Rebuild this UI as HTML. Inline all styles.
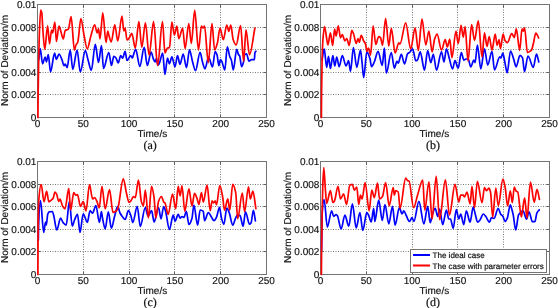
<!DOCTYPE html>
<html><head><meta charset="utf-8"><style>
html,body{margin:0;padding:0;background:#fff;}
svg{display:block;text-rendering:geometricPrecision;filter:blur(0.3px);}
.t{font-family:"Liberation Sans",Arial,sans-serif;font-size:10px;fill:#111;stroke:#111;stroke-width:0.15px;}
.s{font-family:"Liberation Serif","Times New Roman",serif;font-size:12px;fill:#111;stroke:#111;stroke-width:0.2px;}
.l{font-family:"Liberation Sans",Arial,sans-serif;font-size:8px;fill:#111;stroke:#111;stroke-width:0.2px;}
</style></head><body>
<svg width="558" height="308" viewBox="0 0 558 308">
<rect x="0" y="0" width="558" height="308" fill="#fff"/>

<g stroke="#7a7a7a" stroke-width="1" stroke-dasharray="1 1.5"><line x1="83.5" y1="4.5" x2="83.5" y2="117.5"/><line x1="37.5" y1="94.5" x2="266.5" y2="94.5"/><line x1="129.5" y1="4.5" x2="129.5" y2="117.5"/><line x1="37.5" y1="72.5" x2="266.5" y2="72.5"/><line x1="174.5" y1="4.5" x2="174.5" y2="117.5"/><line x1="37.5" y1="49.5" x2="266.5" y2="49.5"/><line x1="220.5" y1="4.5" x2="220.5" y2="117.5"/><line x1="37.5" y1="27.5" x2="266.5" y2="27.5"/></g>
<path d="M37.5 117.5v-3M37.5 4.5v3M37.5 117.5h3M266.5 117.5h-3M83.5 117.5v-3M83.5 4.5v3M37.5 94.5h3M266.5 94.5h-3M129.5 117.5v-3M129.5 4.5v3M37.5 72.5h3M266.5 72.5h-3M174.5 117.5v-3M174.5 4.5v3M37.5 49.5h3M266.5 49.5h-3M220.5 117.5v-3M220.5 4.5v3M37.5 27.5h3M266.5 27.5h-3M266.5 117.5v-3M266.5 4.5v3M37.5 4.5h3M266.5 4.5h-3" stroke="#606060" stroke-width="1" fill="none"/>
<rect x="37.5" y="4.5" width="229.0" height="113.0" fill="none" stroke="#747474" stroke-width="1"/>
<path d="M38.70 60.00C39.20 56.20 39.70 48.60 40.20 48.60C41.00 48.60 41.80 63.80 42.60 63.80C43.47 63.80 44.33 57.00 45.20 57.00C45.60 57.00 46.00 61.90 46.40 61.90C47.03 61.90 47.67 54.50 48.30 54.50C49.03 54.50 49.77 72.00 50.50 72.00C51.87 72.00 53.23 53.20 54.60 53.20C55.20 53.20 55.80 59.40 56.40 59.40C57.27 59.40 58.13 54.00 59.00 54.00C60.03 54.00 61.07 57.62 62.10 60.10C62.73 61.62 63.37 65.70 64.00 65.70C64.40 65.70 64.80 64.00 65.20 64.00C65.83 64.00 66.47 67.60 67.10 67.60C68.13 67.60 69.17 50.00 70.20 50.00C71.07 50.00 71.93 69.40 72.80 69.40C74.23 69.40 75.67 50.00 77.10 50.00C78.17 50.00 79.23 72.00 80.30 72.00C81.97 72.00 83.63 50.70 85.30 50.70C86.13 50.70 86.97 55.90 87.80 58.90C88.07 59.86 88.33 61.06 88.60 62.00C89.50 65.19 90.40 70.50 91.30 70.50C92.63 70.50 93.97 44.40 95.30 44.40C96.37 44.40 97.43 62.50 98.50 62.50C99.50 62.50 100.50 45.70 101.50 45.70C102.17 45.70 102.83 68.50 103.50 68.50C105.27 68.50 107.03 52.60 108.80 52.60C109.70 52.60 110.60 65.50 111.50 65.50C112.27 65.50 113.03 56.30 113.80 56.30C114.53 56.30 115.27 57.15 116.00 58.00C116.73 58.85 117.47 63.00 118.20 63.00C119.03 63.00 119.87 55.70 120.70 55.70C121.33 55.70 121.97 58.20 122.60 58.20C123.43 58.20 124.27 51.30 125.10 51.30C125.73 51.30 126.37 60.50 127.00 60.50C128.23 60.50 129.47 55.70 130.70 55.70C131.27 55.70 131.83 57.90 132.40 57.90C132.70 57.90 133.00 56.20 133.30 55.40C134.10 53.26 134.90 49.30 135.70 49.30C137.07 49.30 138.43 66.50 139.80 66.50C141.27 66.50 142.73 47.30 144.20 47.30C145.23 47.30 146.27 65.50 147.30 65.50C148.57 65.50 149.83 52.20 151.10 52.20C151.93 52.20 152.77 57.84 153.60 59.50C154.13 60.56 154.67 62.00 155.20 62.00C155.63 62.00 156.07 58.00 156.50 58.00C156.90 58.00 157.30 65.00 157.70 65.00C158.13 65.00 158.57 64.48 159.00 64.00C160.23 62.62 161.47 53.00 162.70 53.00C163.43 53.00 164.17 74.50 164.90 74.50C165.77 74.50 166.63 58.20 167.50 58.20C168.13 58.20 168.77 63.80 169.40 63.80C170.23 63.80 171.07 56.90 171.90 56.90C172.93 56.90 173.97 66.90 175.00 66.90C175.83 66.90 176.67 55.60 177.50 55.60C178.33 55.60 179.17 64.40 180.00 64.40C181.07 64.40 182.13 54.00 183.20 54.00C184.30 54.00 185.40 67.60 186.50 67.60C187.50 67.60 188.50 49.80 189.50 49.80C190.53 49.80 191.57 58.49 192.60 62.00C193.57 65.29 194.53 70.70 195.50 70.70C197.03 70.70 198.57 52.30 200.10 52.30C200.93 52.30 201.77 59.84 202.60 62.50C203.40 65.05 204.20 68.80 205.00 68.80C206.20 68.80 207.40 57.00 208.60 57.00C209.90 57.00 211.20 66.90 212.50 66.90C213.40 66.90 214.30 51.50 215.20 51.50C215.80 51.50 216.40 53.14 217.00 54.80C217.63 56.55 218.27 65.60 218.90 65.60C219.40 65.60 219.90 59.70 220.40 59.70C220.90 59.70 221.40 60.82 221.90 61.70C222.87 63.39 223.83 70.00 224.80 70.00C225.63 70.00 226.47 46.90 227.30 46.90C228.13 46.90 228.97 54.55 229.80 56.70C230.30 57.99 230.80 58.29 231.30 59.70C231.97 61.58 232.63 70.00 233.30 70.00C234.43 70.00 235.57 49.40 236.70 49.40C237.33 49.40 237.97 53.91 238.60 54.80C238.93 55.27 239.27 55.28 239.60 55.80C240.27 56.85 240.93 66.60 241.60 66.60C242.27 66.60 242.93 64.25 243.60 61.70C243.93 60.43 244.27 55.16 244.60 54.80C245.23 54.12 245.87 53.80 246.50 53.80C247.33 53.80 248.17 61.20 249.00 61.20C249.83 61.20 250.67 59.70 251.50 59.70C252.47 59.70 253.43 59.70 254.40 59.70C254.57 59.70 254.73 53.30 254.90 52.80C255.23 51.81 255.57 51.80 255.90 51.30" fill="none" stroke="#0000ff" stroke-width="1.7" stroke-linejoin="round" stroke-linecap="round"/>
<path d="M37.90 117.50C38.00 108.33 38.10 97.38 38.20 90.00C38.37 77.70 38.53 67.83 38.70 60.00C38.97 47.47 39.23 36.32 39.50 30.00C39.90 20.53 40.30 10.00 40.70 10.00C41.07 10.00 41.43 11.31 41.80 13.00C42.20 14.84 42.60 27.10 43.00 32.00C43.60 39.35 44.20 49.50 44.80 49.50C45.73 49.50 46.67 25.80 47.60 25.80C48.23 25.80 48.87 43.80 49.50 43.80C50.20 43.80 50.90 30.00 51.60 30.00C51.93 30.00 52.27 33.00 52.60 33.00C53.37 33.00 54.13 22.00 54.90 22.00C55.40 22.00 55.90 41.50 56.40 41.50C57.27 41.50 58.13 26.00 59.00 26.00C59.67 26.00 60.33 29.99 61.00 32.00C61.77 34.32 62.53 39.00 63.30 39.00C63.93 39.00 64.57 31.01 65.20 30.50C66.27 29.64 67.33 30.02 68.40 29.20C69.30 28.51 70.20 16.70 71.10 16.70C72.20 16.70 73.30 50.10 74.40 50.10C74.93 50.10 75.47 46.17 76.00 45.00C76.60 43.68 77.20 43.55 77.80 42.00C78.83 39.33 79.87 18.50 80.90 18.50C81.93 18.50 82.97 30.07 84.00 35.00C85.07 40.09 86.13 48.80 87.20 48.80C88.47 48.80 89.73 39.51 91.00 35.50C92.23 31.60 93.47 24.80 94.70 24.80C95.53 24.80 96.37 33.00 97.20 33.00C97.63 33.00 98.07 28.60 98.50 28.60C99.00 28.60 99.50 38.80 100.00 38.80C100.93 38.80 101.87 12.90 102.80 12.90C103.87 12.90 104.93 42.50 106.00 42.50C106.60 42.50 107.20 31.10 107.80 31.10C108.20 31.10 108.60 34.18 109.00 35.50C109.73 37.93 110.47 42.00 111.20 42.00C112.40 42.00 113.60 24.80 114.80 24.80C115.80 24.80 116.80 41.00 117.80 41.00C119.20 41.00 120.60 16.00 122.00 16.00C122.60 16.00 123.20 31.00 123.80 31.00C124.23 31.00 124.67 28.00 125.10 28.00C125.73 28.00 126.37 40.00 127.00 40.00C127.83 40.00 128.67 38.49 129.50 37.40C130.27 36.40 131.03 33.40 131.80 33.40C132.97 33.40 134.13 48.10 135.30 48.10C136.50 48.10 137.70 21.70 138.90 21.70C139.87 21.70 140.83 47.30 141.80 47.30C143.00 47.30 144.20 22.90 145.40 22.90C146.63 22.90 147.87 55.00 149.10 55.00C150.60 55.00 152.10 21.70 153.60 21.70C154.93 21.70 156.27 65.50 157.60 65.50C159.23 65.50 160.87 21.70 162.50 21.70C163.33 21.70 164.17 53.00 165.00 53.00C165.80 53.00 166.60 48.49 167.40 48.10C168.10 47.75 168.80 47.88 169.50 47.50C170.30 47.06 171.10 22.20 171.90 22.20C172.73 22.20 173.57 35.00 174.40 35.00C175.23 35.00 176.07 26.10 176.90 26.10C177.53 26.10 178.17 38.70 178.80 38.70C180.07 38.70 181.33 28.00 182.60 28.00C183.43 28.00 184.27 48.50 185.10 48.50C186.33 48.50 187.57 23.60 188.80 23.60C189.63 23.60 190.47 43.50 191.30 43.50C192.43 43.50 193.57 10.40 194.70 10.40C195.97 10.40 197.23 50.00 198.50 50.00C199.47 50.00 200.43 26.10 201.40 26.10C201.93 26.10 202.47 28.00 203.00 28.00C203.50 28.00 204.00 26.10 204.50 26.10C205.77 26.10 207.03 62.60 208.30 62.60C209.53 62.60 210.77 23.60 212.00 23.60C212.87 23.60 213.73 50.00 214.60 50.00C215.57 50.00 216.53 46.07 217.50 42.60C218.33 39.61 219.17 28.00 220.00 28.00C221.10 28.00 222.20 39.60 223.30 39.60C224.47 39.60 225.63 25.00 226.80 25.00C227.47 25.00 228.13 31.40 228.80 31.40C229.47 31.40 230.13 25.00 230.80 25.00C231.60 25.00 232.40 37.59 233.20 39.80C234.20 42.56 235.20 45.00 236.20 45.00C237.67 45.00 239.13 25.50 240.60 25.50C241.60 25.50 242.60 61.20 243.60 61.20C244.40 61.20 245.20 29.80 246.00 29.80C247.17 29.80 248.33 54.80 249.50 54.80C251.30 54.80 253.10 36.93 254.90 28.00" fill="none" stroke="#ff0000" stroke-width="1.7" stroke-linejoin="round" stroke-linecap="round"/>
<text class="t" x="36.4" y="120.9" text-anchor="end">0</text>
<text class="t" x="37.5" y="127.2" text-anchor="middle">0</text>
<text class="t" x="36.4" y="98.3" text-anchor="end">0.002</text>
<text class="t" x="83.3" y="127.2" text-anchor="middle">50</text>
<text class="t" x="36.4" y="75.7" text-anchor="end">0.004</text>
<text class="t" x="129.1" y="127.2" text-anchor="middle">100</text>
<text class="t" x="36.4" y="53.1" text-anchor="end">0.006</text>
<text class="t" x="174.9" y="127.2" text-anchor="middle">150</text>
<text class="t" x="36.4" y="30.5" text-anchor="end">0.008</text>
<text class="t" x="220.7" y="127.2" text-anchor="middle">200</text>
<text class="t" x="36.4" y="7.9" text-anchor="end">0.01</text>
<text class="t" x="266.5" y="127.2" text-anchor="middle">250</text>
<text class="t" x="152.4" y="137.1" text-anchor="middle">Time/s</text>
<text class="s" x="150.1" y="149.1" text-anchor="middle">(a)</text>
<text class="t" transform="translate(8.1,60.4) rotate(-90)" x="0" y="0" text-anchor="middle">Norm of Deviation/m</text>
<g stroke="#7a7a7a" stroke-width="1" stroke-dasharray="1 1.5"><line x1="366.5" y1="4.5" x2="366.5" y2="117.5"/><line x1="320.5" y1="94.5" x2="549.5" y2="94.5"/><line x1="412.5" y1="4.5" x2="412.5" y2="117.5"/><line x1="320.5" y1="72.5" x2="549.5" y2="72.5"/><line x1="457.5" y1="4.5" x2="457.5" y2="117.5"/><line x1="320.5" y1="49.5" x2="549.5" y2="49.5"/><line x1="503.5" y1="4.5" x2="503.5" y2="117.5"/><line x1="320.5" y1="27.5" x2="549.5" y2="27.5"/></g>
<path d="M320.5 117.5v-3M320.5 4.5v3M320.5 117.5h3M549.5 117.5h-3M366.5 117.5v-3M366.5 4.5v3M320.5 94.5h3M549.5 94.5h-3M412.5 117.5v-3M412.5 4.5v3M320.5 72.5h3M549.5 72.5h-3M457.5 117.5v-3M457.5 4.5v3M320.5 49.5h3M549.5 49.5h-3M503.5 117.5v-3M503.5 4.5v3M320.5 27.5h3M549.5 27.5h-3M549.5 117.5v-3M549.5 4.5v3M320.5 4.5h3M549.5 4.5h-3" stroke="#606060" stroke-width="1" fill="none"/>
<rect x="320.5" y="4.5" width="229.0" height="113.0" fill="none" stroke="#747474" stroke-width="1"/>
<path d="M322.10 60.00C322.80 56.27 323.50 48.80 324.20 48.80C325.03 48.80 325.87 67.30 326.70 67.30C327.30 67.30 327.90 56.30 328.50 56.30C329.13 56.30 329.77 68.50 330.40 68.50C331.23 68.50 332.07 55.70 332.90 55.70C333.53 55.70 334.17 66.00 334.80 66.00C335.43 66.00 336.07 57.00 336.70 57.00C337.53 57.00 338.37 66.60 339.20 66.60C340.23 66.60 341.27 55.70 342.30 55.70C343.57 55.70 344.83 66.00 346.10 66.00C346.93 66.00 347.77 60.70 348.60 60.70C349.23 60.70 349.87 71.40 350.50 71.40C351.47 71.40 352.43 47.50 353.40 47.50C354.53 47.50 355.67 67.30 356.80 67.30C358.03 67.30 359.27 50.00 360.50 50.00C361.00 50.00 361.50 57.73 362.00 62.00C362.57 66.84 363.13 77.60 363.70 77.60C364.73 77.60 365.77 51.90 366.80 51.90C367.87 51.90 368.93 55.38 370.00 58.80C370.50 60.40 371.00 66.60 371.50 66.60C372.43 66.60 373.37 63.91 374.30 62.00C375.57 59.41 376.83 51.30 378.10 51.30C379.47 51.30 380.83 65.50 382.20 65.50C382.93 65.50 383.67 48.20 384.40 48.20C385.03 48.20 385.67 73.20 386.30 73.20C387.97 73.20 389.63 52.50 391.30 52.50C392.33 52.50 393.37 68.20 394.40 68.20C395.23 68.20 396.07 61.30 396.90 61.30C397.33 61.30 397.77 63.20 398.20 63.20C399.23 63.20 400.27 54.40 401.30 54.40C402.37 54.40 403.43 63.80 404.50 63.80C405.53 63.80 406.57 55.03 407.60 53.80C408.40 52.85 409.20 52.74 410.00 52.00C410.87 51.19 411.73 48.80 412.60 48.80C413.67 48.80 414.73 60.70 415.80 60.70C416.37 60.70 416.93 60.39 417.50 60.00C418.40 59.38 419.30 51.90 420.20 51.90C421.63 51.90 423.07 70.10 424.50 70.10C425.57 70.10 426.63 50.70 427.70 50.70C428.73 50.70 429.77 62.60 430.80 62.60C431.63 62.60 432.47 54.40 433.30 54.40C434.37 54.40 435.43 70.10 436.50 70.10C438.17 70.10 439.83 51.90 441.50 51.90C442.33 51.90 443.17 62.00 444.00 62.00C444.80 62.00 445.60 48.80 446.40 48.80C447.40 48.80 448.40 55.50 449.40 58.80C450.43 62.21 451.47 68.90 452.50 68.90C453.33 68.90 454.17 60.70 455.00 60.70C456.07 60.70 457.13 68.20 458.20 68.20C459.23 68.20 460.27 52.50 461.30 52.50C462.13 52.50 462.97 60.10 463.80 60.10C464.53 60.10 465.27 59.11 466.00 59.00C466.73 58.89 467.47 58.80 468.20 58.80C469.03 58.80 469.87 67.00 470.70 67.00C471.77 67.00 472.83 60.10 473.90 60.10C474.30 60.10 474.70 62.60 475.10 62.60C475.87 62.60 476.63 45.00 477.40 45.00C478.53 45.00 479.67 68.90 480.80 68.90C482.03 68.90 483.27 48.80 484.50 48.80C485.57 48.80 486.63 65.10 487.70 65.10C489.13 65.10 490.57 51.30 492.00 51.30C492.83 51.30 493.67 69.80 494.50 69.80C496.27 69.80 498.03 56.90 499.80 56.90C500.20 56.90 500.60 58.00 501.00 58.00C501.60 58.00 502.20 53.00 502.80 53.00C503.47 53.00 504.13 58.92 504.80 61.90C505.60 65.48 506.40 72.70 507.20 72.70C508.30 72.70 509.40 51.00 510.50 51.00C511.53 51.00 512.57 55.97 513.60 58.90C514.43 61.26 515.27 66.80 516.10 66.80C517.40 66.80 518.70 55.40 520.00 55.40C520.83 55.40 521.67 56.40 522.50 57.90C523.17 59.10 523.83 71.70 524.50 71.70C525.67 71.70 526.83 56.00 528.00 56.00C529.77 56.00 531.53 67.30 533.30 67.30C534.37 67.30 535.43 54.00 536.50 54.00C537.27 54.00 538.03 59.27 538.80 61.90" fill="none" stroke="#0000ff" stroke-width="1.7" stroke-linejoin="round" stroke-linecap="round"/>
<path d="M321.40 117.50C321.47 108.33 321.53 95.90 321.60 90.00C321.77 75.25 321.93 66.07 322.10 60.00C322.37 50.28 322.63 43.56 322.90 40.00C323.43 32.88 323.97 26.50 324.50 26.50C325.00 26.50 325.50 31.32 326.00 34.00C326.63 37.39 327.27 45.00 327.90 45.00C328.73 45.00 329.57 32.80 330.40 32.80C331.17 32.80 331.93 45.50 332.70 45.50C333.33 45.50 333.97 29.00 334.60 29.00C335.10 29.00 335.60 36.00 336.10 36.00C336.83 36.00 337.57 25.90 338.30 25.90C339.03 25.90 339.77 37.80 340.50 37.80C341.10 37.80 341.70 34.70 342.30 34.70C343.17 34.70 344.03 41.00 344.90 41.00C345.50 41.00 346.10 38.50 346.70 38.50C347.53 38.50 348.37 45.50 349.20 45.50C350.07 45.50 350.93 30.30 351.80 30.30C352.40 30.30 353.00 32.45 353.60 34.00C354.47 36.24 355.33 43.50 356.20 43.50C356.80 43.50 357.40 38.50 358.00 38.50C358.43 38.50 358.87 42.20 359.30 42.20C359.93 42.20 360.57 35.30 361.20 35.30C362.03 35.30 362.87 39.43 363.70 41.00C364.33 42.20 364.97 42.40 365.60 44.10C366.00 45.17 366.40 51.30 366.80 51.30C367.37 51.30 367.93 48.00 368.50 48.00C369.20 48.00 369.90 55.00 370.60 55.00C371.43 55.00 372.27 25.90 373.10 25.90C374.00 25.90 374.90 44.50 375.80 44.50C376.77 44.50 377.73 36.60 378.70 36.60C379.33 36.60 379.97 37.12 380.60 37.80C381.27 38.51 381.93 45.20 382.60 45.20C383.60 45.20 384.60 18.40 385.60 18.40C386.67 18.40 387.73 46.00 388.80 46.00C389.63 46.00 390.47 28.40 391.30 28.40C392.57 28.40 393.83 53.00 395.10 53.00C396.33 53.00 397.57 42.90 398.80 42.90C399.20 42.90 399.60 44.10 400.00 44.10C401.90 44.10 403.80 22.80 405.70 22.80C407.37 22.80 409.03 49.00 410.70 49.00C412.17 49.00 413.63 27.80 415.10 27.80C416.17 27.80 417.23 50.50 418.30 50.50C419.53 50.50 420.77 19.00 422.00 19.00C423.27 19.00 424.53 45.00 425.80 45.00C426.83 45.00 427.87 31.00 428.90 31.00C429.97 31.00 431.03 51.90 432.10 51.90C432.93 51.90 433.77 41.50 434.60 39.10C435.43 36.70 436.27 34.10 437.10 34.10C438.57 34.10 440.03 50.00 441.50 50.00C442.73 50.00 443.97 39.70 445.20 39.70C445.90 39.70 446.60 47.00 447.30 47.00C448.13 47.00 448.97 39.10 449.80 39.10C450.50 39.10 451.20 57.60 451.90 57.60C453.27 57.60 454.63 31.00 456.00 31.00C456.73 31.00 457.47 43.70 458.20 43.70C459.17 43.70 460.13 25.30 461.10 25.30C461.80 25.30 462.50 37.20 463.20 37.20C463.83 37.20 464.47 26.50 465.10 26.50C466.07 26.50 467.03 61.00 468.00 61.00C469.20 61.00 470.40 24.70 471.60 24.70C472.57 24.70 473.53 40.30 474.50 40.30C475.77 40.30 477.03 20.90 478.30 20.90C479.53 20.90 480.77 56.90 482.00 56.90C482.83 56.90 483.67 32.80 484.50 32.80C485.33 32.80 486.17 46.50 487.00 46.50C487.73 46.50 488.47 36.60 489.20 36.60C490.13 36.60 491.07 50.00 492.00 50.00C493.07 50.00 494.13 34.10 495.20 34.10C495.83 34.10 496.47 45.40 497.10 45.40C497.73 45.40 498.37 39.70 499.00 39.70C499.50 39.70 500.00 48.50 500.50 48.50C501.37 48.50 502.23 34.10 503.10 34.10C503.73 34.10 504.37 39.54 505.00 40.50C505.77 41.66 506.53 42.70 507.30 42.70C508.80 42.70 510.30 33.70 511.80 33.70C512.63 33.70 513.47 37.60 514.30 37.60C514.97 37.60 515.63 28.80 516.30 28.80C517.43 28.80 518.57 50.30 519.70 50.30C520.47 50.30 521.23 28.80 522.00 28.80C522.43 28.80 522.87 31.20 523.30 31.20C523.73 31.20 524.17 27.80 524.60 27.80C525.53 27.80 526.47 52.50 527.40 52.50C528.13 52.50 528.87 51.88 529.60 51.50C530.17 51.21 530.73 51.05 531.30 50.50C531.97 49.85 532.63 46.46 533.30 44.00C534.13 40.92 534.97 33.20 535.80 33.20C536.20 33.20 536.60 33.93 537.00 34.50C537.53 35.26 538.07 36.83 538.60 38.00" fill="none" stroke="#ff0000" stroke-width="1.7" stroke-linejoin="round" stroke-linecap="round"/>
<text class="t" x="319.4" y="120.9" text-anchor="end">0</text>
<text class="t" x="320.5" y="127.2" text-anchor="middle">0</text>
<text class="t" x="319.4" y="98.3" text-anchor="end">0.002</text>
<text class="t" x="366.3" y="127.2" text-anchor="middle">50</text>
<text class="t" x="319.4" y="75.7" text-anchor="end">0.004</text>
<text class="t" x="412.1" y="127.2" text-anchor="middle">100</text>
<text class="t" x="319.4" y="53.1" text-anchor="end">0.006</text>
<text class="t" x="457.9" y="127.2" text-anchor="middle">150</text>
<text class="t" x="319.4" y="30.5" text-anchor="end">0.008</text>
<text class="t" x="503.7" y="127.2" text-anchor="middle">200</text>
<text class="t" x="319.4" y="7.9" text-anchor="end">0.01</text>
<text class="t" x="549.5" y="127.2" text-anchor="middle">250</text>
<text class="t" x="434.4" y="137.1" text-anchor="middle">Time/s</text>
<text class="s" x="433.1" y="149.1" text-anchor="middle">(b)</text>
<text class="t" transform="translate(291.1,60.4) rotate(-90)" x="0" y="0" text-anchor="middle">Norm of Deviation/m</text>
<g stroke="#7a7a7a" stroke-width="1" stroke-dasharray="1 1.5"><line x1="83.5" y1="161.5" x2="83.5" y2="274.5"/><line x1="37.5" y1="251.5" x2="266.5" y2="251.5"/><line x1="129.5" y1="161.5" x2="129.5" y2="274.5"/><line x1="37.5" y1="229.5" x2="266.5" y2="229.5"/><line x1="174.5" y1="161.5" x2="174.5" y2="274.5"/><line x1="37.5" y1="206.5" x2="266.5" y2="206.5"/><line x1="220.5" y1="161.5" x2="220.5" y2="274.5"/><line x1="37.5" y1="184.5" x2="266.5" y2="184.5"/></g>
<path d="M37.5 274.5v-3M37.5 161.5v3M37.5 274.5h3M266.5 274.5h-3M83.5 274.5v-3M83.5 161.5v3M37.5 251.5h3M266.5 251.5h-3M129.5 274.5v-3M129.5 161.5v3M37.5 229.5h3M266.5 229.5h-3M174.5 274.5v-3M174.5 161.5v3M37.5 206.5h3M266.5 206.5h-3M220.5 274.5v-3M220.5 161.5v3M37.5 184.5h3M266.5 184.5h-3M266.5 274.5v-3M266.5 161.5v3M37.5 161.5h3M266.5 161.5h-3" stroke="#606060" stroke-width="1" fill="none"/>
<rect x="37.5" y="161.5" width="229.0" height="113.0" fill="none" stroke="#747474" stroke-width="1"/>
<path d="M38.35 240.00C38.43 235.00 38.52 227.11 38.60 225.00C39.23 208.94 39.87 200.60 40.50 200.60C41.57 200.60 42.63 232.50 43.70 232.50C44.30 232.50 44.90 222.00 45.50 222.00C45.77 222.00 46.03 225.00 46.30 225.00C46.80 225.00 47.30 215.28 47.80 214.00C48.27 212.80 48.73 211.89 49.20 211.80C50.27 211.59 51.33 211.50 52.40 211.50C52.80 211.50 53.20 213.69 53.60 215.10C54.67 218.87 55.73 230.00 56.80 230.00C58.07 230.00 59.33 218.20 60.60 218.20C61.43 218.20 62.27 221.67 63.10 222.60C64.13 223.76 65.17 225.10 66.20 225.10C67.27 225.10 68.33 201.30 69.40 201.30C70.33 201.30 71.27 226.00 72.20 226.00C72.97 226.00 73.73 221.68 74.50 220.00C75.50 217.81 76.50 214.40 77.50 214.40C78.33 214.40 79.17 232.50 80.00 232.50C81.07 232.50 82.13 213.80 83.20 213.80C84.57 213.80 85.93 222.30 87.30 222.30C88.23 222.30 89.17 210.70 90.10 210.70C90.93 210.70 91.77 213.20 92.60 213.20C93.70 213.20 94.80 205.50 95.90 205.50C97.07 205.50 98.23 222.50 99.40 222.50C100.07 222.50 100.73 211.50 101.40 211.50C101.77 211.50 102.13 216.19 102.50 218.00C103.40 222.43 104.30 228.90 105.20 228.90C106.23 228.90 107.27 211.90 108.30 211.90C109.33 211.90 110.37 228.20 111.40 228.20C112.47 228.20 113.53 219.98 114.60 216.30C115.63 212.73 116.67 206.30 117.70 206.30C118.47 206.30 119.23 211.44 120.00 213.00C120.70 214.42 121.40 215.42 122.10 216.30C123.13 217.60 124.17 219.50 125.20 219.50C126.27 219.50 127.33 210.70 128.40 210.70C129.23 210.70 130.07 213.52 130.90 215.70C131.53 217.36 132.17 222.60 132.80 222.60C134.27 222.60 135.73 206.30 137.20 206.30C138.23 206.30 139.27 226.40 140.30 226.40C141.97 226.40 143.63 207.50 145.30 207.50C146.20 207.50 147.10 216.00 148.00 216.00C149.20 216.00 150.40 210.70 151.60 210.70C152.43 210.70 153.27 222.00 154.10 222.00C155.57 222.00 157.03 207.50 158.50 207.50C159.33 207.50 160.17 218.80 161.00 218.80C161.90 218.80 162.80 206.50 163.70 206.50C164.33 206.50 164.97 209.27 165.60 211.30C166.87 215.35 168.13 229.50 169.40 229.50C170.67 229.50 171.93 215.10 173.20 215.10C173.83 215.10 174.47 221.30 175.10 221.30C176.13 221.30 177.17 214.40 178.20 214.40C178.83 214.40 179.47 218.20 180.10 218.20C180.73 218.20 181.37 216.50 182.00 216.50C182.67 216.50 183.33 217.50 184.00 217.50C184.77 217.50 185.53 211.30 186.30 211.30C187.17 211.30 188.03 224.50 188.90 224.50C189.93 224.50 190.97 221.60 192.00 218.20C192.63 216.12 193.27 205.00 193.90 205.00C195.13 205.00 196.37 225.10 197.60 225.10C198.47 225.10 199.33 210.00 200.20 210.00C201.23 210.00 202.27 210.35 203.30 211.30C203.70 211.67 204.10 220.70 204.50 220.70C205.77 220.70 207.03 212.60 208.30 212.60C209.33 212.60 210.37 215.53 211.40 217.00C212.27 218.23 213.13 220.70 214.00 220.70C214.83 220.70 215.67 218.82 216.50 217.20C217.50 215.26 218.50 207.30 219.50 207.30C220.13 207.30 220.77 215.52 221.40 217.80C222.23 220.80 223.07 224.30 223.90 224.30C224.87 224.30 225.83 208.00 226.80 208.00C227.63 208.00 228.47 210.81 229.30 212.90C230.43 215.74 231.57 225.20 232.70 225.20C233.70 225.20 234.70 219.60 235.70 217.80C236.37 216.60 237.03 214.90 237.70 214.90C238.50 214.90 239.30 215.27 240.10 215.80C241.10 216.46 242.10 226.20 243.10 226.20C243.90 226.20 244.70 211.90 245.50 211.90C246.83 211.90 248.17 224.20 249.50 224.20C250.00 224.20 250.50 223.66 251.00 223.00C251.80 221.95 252.60 210.40 253.40 210.40C254.07 210.40 254.73 217.33 255.40 220.80" fill="none" stroke="#0000ff" stroke-width="1.7" stroke-linejoin="round" stroke-linecap="round"/>
<path d="M37.90 274.50C37.97 259.67 38.03 235.48 38.10 230.00C38.33 210.83 38.57 203.03 38.80 200.00C39.60 189.62 40.40 184.50 41.20 184.50C42.13 184.50 43.07 201.80 44.00 201.80C44.87 201.80 45.73 191.40 46.60 191.40C47.37 191.40 48.13 201.80 48.90 201.80C49.67 201.80 50.43 200.83 51.20 200.20C51.83 199.68 52.47 199.27 53.10 198.30C53.73 197.33 54.37 192.10 55.00 192.10C55.60 192.10 56.20 193.40 56.80 194.60C57.43 195.87 58.07 201.50 58.70 201.50C59.13 201.50 59.57 199.00 60.00 199.00C60.83 199.00 61.67 204.54 62.50 205.90C63.33 207.26 64.17 208.80 65.00 208.80C66.27 208.80 67.53 188.30 68.80 188.30C69.40 188.30 70.00 210.00 70.60 210.00C71.67 210.00 72.73 192.70 73.80 192.70C74.43 192.70 75.07 195.20 75.70 195.20C76.30 195.20 76.90 194.60 77.50 194.60C78.50 194.60 79.50 206.50 80.50 206.50C81.40 206.50 82.30 201.50 83.20 201.50C84.13 201.50 85.07 211.00 86.00 211.00C87.17 211.00 88.33 184.50 89.50 184.50C90.53 184.50 91.57 199.00 92.60 199.00C93.23 199.00 93.87 197.70 94.50 197.70C95.33 197.70 96.17 199.82 97.00 201.50C97.73 202.98 98.47 208.00 99.20 208.00C100.13 208.00 101.07 186.40 102.00 186.40C103.07 186.40 104.13 208.80 105.20 208.80C106.63 208.80 108.07 189.60 109.50 189.60C110.67 189.60 111.83 212.50 113.00 212.50C113.93 212.50 114.87 211.92 115.80 211.30C116.43 210.88 117.07 210.02 117.70 208.80C119.57 205.22 121.43 178.90 123.30 178.90C124.37 178.90 125.43 189.05 126.50 193.30C127.33 196.62 128.17 202.30 129.00 202.30C129.63 202.30 130.27 201.55 130.90 200.90C131.73 200.05 132.57 196.50 133.40 196.50C134.03 196.50 134.67 197.70 135.30 197.70C136.33 197.70 137.37 180.20 138.40 180.20C139.43 180.20 140.47 198.85 141.50 202.00C142.13 203.93 142.77 205.90 143.40 205.90C144.03 205.90 144.67 190.20 145.30 190.20C146.33 190.20 147.37 218.00 148.40 218.00C149.47 218.00 150.53 186.40 151.60 186.40C152.40 186.40 153.20 191.76 154.00 197.00C154.60 200.93 155.20 218.00 155.80 218.00C156.70 218.00 157.60 203.94 158.50 201.50C159.47 198.88 160.43 196.50 161.40 196.50C162.20 196.50 163.00 201.24 163.80 202.10C164.20 202.53 164.60 202.55 165.00 203.00C166.07 204.20 167.13 214.40 168.20 214.40C169.63 214.40 171.07 194.00 172.50 194.00C173.57 194.00 174.63 208.80 175.70 208.80C176.53 208.80 177.37 186.40 178.20 186.40C178.83 186.40 179.47 195.80 180.10 195.80C180.73 195.80 181.37 185.80 182.00 185.80C182.93 185.80 183.87 211.30 184.80 211.30C186.17 211.30 187.53 188.90 188.90 188.90C189.93 188.90 190.97 206.00 192.00 206.00C192.83 206.00 193.67 193.30 194.50 193.30C195.33 193.30 196.17 196.21 197.00 198.30C197.63 199.89 198.27 204.50 198.90 204.50C199.73 204.50 200.57 192.70 201.40 192.70C202.03 192.70 202.67 202.10 203.30 202.10C204.57 202.10 205.83 185.20 207.10 185.20C208.13 185.20 209.17 210.70 210.20 210.70C210.83 210.70 211.47 200.90 212.10 200.90C212.57 200.90 213.03 203.00 213.50 203.00C214.07 203.00 214.63 200.90 215.20 200.90C215.63 200.90 216.07 204.80 216.50 204.80C217.60 204.80 218.70 185.50 219.80 185.50C220.77 185.50 221.73 191.99 222.70 197.10C223.30 200.27 223.90 210.20 224.50 210.20C225.60 210.20 226.70 198.90 227.80 198.90C228.47 198.90 229.13 210.20 229.80 210.20C230.77 210.20 231.73 184.30 232.70 184.30C233.70 184.30 234.70 187.89 235.70 192.70C236.37 195.91 237.03 218.60 237.70 218.60C239.23 218.60 240.77 193.00 242.30 193.00C243.07 193.00 243.83 211.70 244.60 211.70C245.90 211.70 247.20 186.80 248.50 186.80C249.10 186.80 249.70 199.00 250.30 199.00C251.17 199.00 252.03 191.20 252.90 191.20C253.90 191.20 254.90 202.87 255.90 208.70" fill="none" stroke="#ff0000" stroke-width="1.7" stroke-linejoin="round" stroke-linecap="round"/>
<text class="t" x="36.4" y="277.9" text-anchor="end">0</text>
<text class="t" x="37.5" y="284.2" text-anchor="middle">0</text>
<text class="t" x="36.4" y="255.3" text-anchor="end">0.002</text>
<text class="t" x="83.3" y="284.2" text-anchor="middle">50</text>
<text class="t" x="36.4" y="232.7" text-anchor="end">0.004</text>
<text class="t" x="129.1" y="284.2" text-anchor="middle">100</text>
<text class="t" x="36.4" y="210.1" text-anchor="end">0.006</text>
<text class="t" x="174.9" y="284.2" text-anchor="middle">150</text>
<text class="t" x="36.4" y="187.5" text-anchor="end">0.008</text>
<text class="t" x="220.7" y="284.2" text-anchor="middle">200</text>
<text class="t" x="36.4" y="164.9" text-anchor="end">0.01</text>
<text class="t" x="266.5" y="284.2" text-anchor="middle">250</text>
<text class="t" x="152.4" y="294.1" text-anchor="middle">Time/s</text>
<text class="s" x="150.1" y="306.1" text-anchor="middle">(c)</text>
<text class="t" transform="translate(8.1,217.4) rotate(-90)" x="0" y="0" text-anchor="middle">Norm of Deviation/m</text>
<g stroke="#7a7a7a" stroke-width="1" stroke-dasharray="1 1.5"><line x1="366.5" y1="161.5" x2="366.5" y2="274.5"/><line x1="320.5" y1="251.5" x2="549.5" y2="251.5"/><line x1="412.5" y1="161.5" x2="412.5" y2="274.5"/><line x1="320.5" y1="229.5" x2="549.5" y2="229.5"/><line x1="457.5" y1="161.5" x2="457.5" y2="274.5"/><line x1="320.5" y1="206.5" x2="549.5" y2="206.5"/><line x1="503.5" y1="161.5" x2="503.5" y2="274.5"/><line x1="320.5" y1="184.5" x2="549.5" y2="184.5"/></g>
<path d="M320.5 274.5v-3M320.5 161.5v3M320.5 274.5h3M549.5 274.5h-3M366.5 274.5v-3M366.5 161.5v3M320.5 251.5h3M549.5 251.5h-3M412.5 274.5v-3M412.5 161.5v3M320.5 229.5h3M549.5 229.5h-3M457.5 274.5v-3M457.5 161.5v3M320.5 206.5h3M549.5 206.5h-3M503.5 274.5v-3M503.5 161.5v3M320.5 184.5h3M549.5 184.5h-3M549.5 274.5v-3M549.5 161.5v3M320.5 161.5h3M549.5 161.5h-3" stroke="#606060" stroke-width="1" fill="none"/>
<rect x="320.5" y="161.5" width="229.0" height="113.0" fill="none" stroke="#747474" stroke-width="1"/>
<path d="M321.60 250.00C321.77 238.33 321.93 217.67 322.10 215.00C322.80 203.79 323.50 199.50 324.20 199.50C325.23 199.50 326.27 227.10 327.30 227.10C328.77 227.10 330.23 210.80 331.70 210.80C332.33 210.80 332.97 216.50 333.60 216.50C334.43 216.50 335.27 214.60 336.10 214.60C336.57 214.60 337.03 215.33 337.50 216.00C338.70 217.74 339.90 229.00 341.10 229.00C342.37 229.00 343.63 215.20 344.90 215.20C346.20 215.20 347.50 226.20 348.80 226.20C350.00 226.20 351.20 203.90 352.40 203.90C353.67 203.90 354.93 228.00 356.20 228.00C357.43 228.00 358.67 212.70 359.90 212.70C360.87 212.70 361.83 230.50 362.80 230.50C364.13 230.50 365.47 212.70 366.80 212.70C367.37 212.70 367.93 214.02 368.50 215.00C369.40 216.55 370.30 221.80 371.20 221.80C372.03 221.80 372.87 208.30 373.70 208.30C374.07 208.30 374.43 221.50 374.80 221.50C376.10 221.50 377.40 200.20 378.70 200.20C379.90 200.20 381.10 220.50 382.30 220.50C383.20 220.50 384.10 204.50 385.00 204.50C386.27 204.50 387.53 224.00 388.80 224.00C390.03 224.00 391.27 206.40 392.50 206.40C393.37 206.40 394.23 225.20 395.10 225.20C396.53 225.20 397.97 207.70 399.40 207.70C400.27 207.70 401.13 214.00 402.00 214.00C402.60 214.00 403.20 210.80 403.80 210.80C404.53 210.80 405.27 213.62 406.00 215.00C407.17 217.20 408.33 221.50 409.50 221.50C410.33 221.50 411.17 217.70 412.00 217.70C412.63 217.70 413.27 221.50 413.90 221.50C415.57 221.50 417.23 201.40 418.90 201.40C420.57 201.40 422.23 224.00 423.90 224.00C425.17 224.00 426.43 206.40 427.70 206.40C428.53 206.40 429.37 222.70 430.20 222.70C430.97 222.70 431.73 216.09 432.50 214.00C433.40 211.54 434.30 208.30 435.20 208.30C436.03 208.30 436.87 216.50 437.70 216.50C438.33 216.50 438.97 209.00 439.60 209.00C440.63 209.00 441.67 224.60 442.70 224.60C443.93 224.60 445.17 210.00 446.40 210.00C447.20 210.00 448.00 219.00 448.80 219.00C449.37 219.00 449.93 219.00 450.50 219.00C451.40 219.00 452.30 228.40 453.20 228.40C454.23 228.40 455.27 209.60 456.30 209.60C457.13 209.60 457.97 219.00 458.80 219.00C459.43 219.00 460.07 214.00 460.70 214.00C461.73 214.00 462.77 224.60 463.80 224.60C464.63 224.60 465.47 210.80 466.30 210.80C467.57 210.80 468.83 222.10 470.10 222.10C471.13 222.10 472.17 207.00 473.20 207.00C473.80 207.00 474.40 210.95 475.00 213.00C475.87 215.95 476.73 222.10 477.60 222.10C478.40 222.10 479.20 220.93 480.00 220.00C481.10 218.72 482.20 214.00 483.30 214.00C484.13 214.00 484.97 215.51 485.80 216.50C487.03 217.97 488.27 222.10 489.50 222.10C490.13 222.10 490.77 217.70 491.40 217.70C492.27 217.70 493.13 218.50 494.00 218.50C495.40 218.50 496.80 208.30 498.20 208.30C499.00 208.30 499.80 212.88 500.60 214.00C501.37 215.08 502.13 215.20 502.90 216.30C503.60 217.30 504.30 221.50 505.00 221.50C505.77 221.50 506.53 219.83 507.30 218.20C508.30 216.08 509.30 204.80 510.30 204.80C510.93 204.80 511.57 208.54 512.20 210.80C512.53 211.99 512.87 213.24 513.20 214.80C514.03 218.71 514.87 230.00 515.70 230.00C516.67 230.00 517.63 216.35 518.60 214.80C520.10 212.40 521.60 210.80 523.10 210.80C524.23 210.80 525.37 219.20 526.50 219.20C527.33 219.20 528.17 211.80 529.00 211.80C530.13 211.80 531.27 221.70 532.40 221.70C533.23 221.70 534.07 221.70 534.90 221.70C535.57 221.70 536.23 214.09 536.90 212.80C537.70 211.25 538.50 210.87 539.30 209.90" fill="none" stroke="#0000ff" stroke-width="1.7" stroke-linejoin="round" stroke-linecap="round"/>
<path d="M321.40 274.50C321.47 266.33 321.53 256.18 321.60 250.00C321.77 234.55 321.93 223.98 322.10 215.00C322.33 202.43 322.57 190.95 322.80 185.00C323.13 176.51 323.47 167.50 323.80 167.50C324.33 167.50 324.87 183.72 325.40 190.00C325.83 195.10 326.27 203.30 326.70 203.30C327.93 203.30 329.17 190.70 330.40 190.70C331.23 190.70 332.07 202.50 332.90 202.50C333.43 202.50 333.97 201.76 334.50 201.00C335.67 199.34 336.83 186.30 338.00 186.30C338.83 186.30 339.67 199.00 340.50 199.00C341.53 199.00 342.57 193.90 343.60 193.90C344.57 193.90 345.53 204.50 346.50 204.50C347.63 204.50 348.77 185.68 349.90 185.10C350.73 184.67 351.57 184.40 352.40 184.40C353.03 184.40 353.67 190.10 354.30 190.10C355.13 190.10 355.97 187.00 356.80 187.00C357.43 187.00 358.07 204.50 358.70 204.50C359.30 204.50 359.90 195.10 360.50 195.10C361.00 195.10 361.50 199.00 362.00 199.00C363.07 199.00 364.13 182.60 365.20 182.60C366.50 182.60 367.80 210.80 369.10 210.80C370.00 210.80 370.90 190.10 371.80 190.10C372.63 190.10 373.47 197.60 374.30 197.60C375.37 197.60 376.43 183.20 377.50 183.20C378.20 183.20 378.90 199.00 379.60 199.00C380.57 199.00 381.53 197.89 382.50 196.50C383.53 195.02 384.57 182.60 385.60 182.60C386.80 182.60 388.00 205.80 389.20 205.80C390.53 205.80 391.87 187.60 393.20 187.60C393.60 187.60 394.00 195.10 394.40 195.10C394.83 195.10 395.27 190.70 395.70 190.70C396.53 190.70 397.37 191.15 398.20 192.00C398.83 192.65 399.47 208.30 400.10 208.30C401.97 208.30 403.83 178.20 405.70 178.20C406.33 178.20 406.97 180.47 407.60 180.70C408.07 180.87 408.53 180.83 409.00 181.00C410.53 181.54 412.07 207.70 413.60 207.70C414.93 207.70 416.27 199.16 417.60 195.10C419.30 189.92 421.00 180.10 422.70 180.10C423.40 180.10 424.10 210.20 424.80 210.20C426.17 210.20 427.53 181.90 428.90 181.90C429.97 181.90 431.03 219.00 432.10 219.00C433.47 219.00 434.83 176.30 436.20 176.30C437.33 176.30 438.47 219.60 439.60 219.60C441.53 219.60 443.47 179.80 445.40 179.80C446.77 179.80 448.13 215.00 449.50 215.00C451.33 215.00 453.17 184.40 455.00 184.40C456.27 184.40 457.53 202.00 458.80 202.00C459.43 202.00 460.07 195.10 460.70 195.10C461.53 195.10 462.37 195.10 463.20 195.10C463.63 195.10 464.07 197.00 464.50 197.00C465.33 197.00 466.17 192.00 467.00 192.00C468.03 192.00 469.07 203.90 470.10 203.90C470.73 203.90 471.37 186.30 472.00 186.30C472.83 186.30 473.67 207.70 474.50 207.70C475.47 207.70 476.43 181.30 477.40 181.30C478.93 181.30 480.47 202.70 482.00 202.70C482.83 202.70 483.67 187.60 484.50 187.60C485.13 187.60 485.77 190.70 486.40 190.70C487.23 190.70 488.07 188.20 488.90 188.20C489.43 188.20 489.97 189.97 490.50 192.00C491.23 194.79 491.97 217.10 492.70 217.10C493.73 217.10 494.77 188.20 495.80 188.20C496.63 188.20 497.47 205.80 498.30 205.80C499.83 205.80 501.37 179.10 502.90 179.10C503.67 179.10 504.43 183.80 505.20 187.60C506.00 191.57 506.80 205.80 507.60 205.80C508.50 205.80 509.40 190.80 510.30 190.80C510.97 190.80 511.63 202.70 512.30 202.70C512.97 202.70 513.63 187.10 514.30 187.10C514.87 187.10 515.43 190.51 516.00 191.00C516.57 191.49 517.13 191.40 517.70 191.90C518.93 193.00 520.17 217.00 521.40 217.00C522.47 217.00 523.53 197.80 524.60 197.80C525.40 197.80 526.20 218.00 527.00 218.00C528.17 218.00 529.33 182.20 530.50 182.20C531.73 182.20 532.97 202.30 534.20 202.30C535.13 202.30 536.07 189.30 537.00 189.30C537.80 189.30 538.60 195.97 539.40 199.30" fill="none" stroke="#ff0000" stroke-width="1.7" stroke-linejoin="round" stroke-linecap="round"/>
<text class="t" x="319.4" y="277.9" text-anchor="end">0</text>
<text class="t" x="320.5" y="284.2" text-anchor="middle">0</text>
<text class="t" x="319.4" y="255.3" text-anchor="end">0.002</text>
<text class="t" x="366.3" y="284.2" text-anchor="middle">50</text>
<text class="t" x="319.4" y="232.7" text-anchor="end">0.004</text>
<text class="t" x="412.1" y="284.2" text-anchor="middle">100</text>
<text class="t" x="319.4" y="210.1" text-anchor="end">0.006</text>
<text class="t" x="457.9" y="284.2" text-anchor="middle">150</text>
<text class="t" x="319.4" y="187.5" text-anchor="end">0.008</text>
<text class="t" x="503.7" y="284.2" text-anchor="middle">200</text>
<text class="t" x="319.4" y="164.9" text-anchor="end">0.01</text>
<text class="t" x="549.5" y="284.2" text-anchor="middle">250</text>
<text class="t" x="434.4" y="294.1" text-anchor="middle">Time/s</text>
<text class="s" x="433.1" y="306.1" text-anchor="middle">(d)</text>
<text class="t" transform="translate(291.1,217.4) rotate(-90)" x="0" y="0" text-anchor="middle">Norm of Deviation/m</text>
<rect x="410.5" y="249.5" width="136" height="23" fill="#fff" stroke="#747474" stroke-width="1"/>
<line x1="413" y1="255" x2="430" y2="255" stroke="#0000ff" stroke-width="2"/>
<line x1="413" y1="265.5" x2="430" y2="265.5" stroke="#ff0000" stroke-width="2"/>
<text class="l" x="432.6" y="258.2">The ideal case</text>
<text class="l" x="432.6" y="268.8">The case with parameter errors</text>
</svg>
</body></html>
